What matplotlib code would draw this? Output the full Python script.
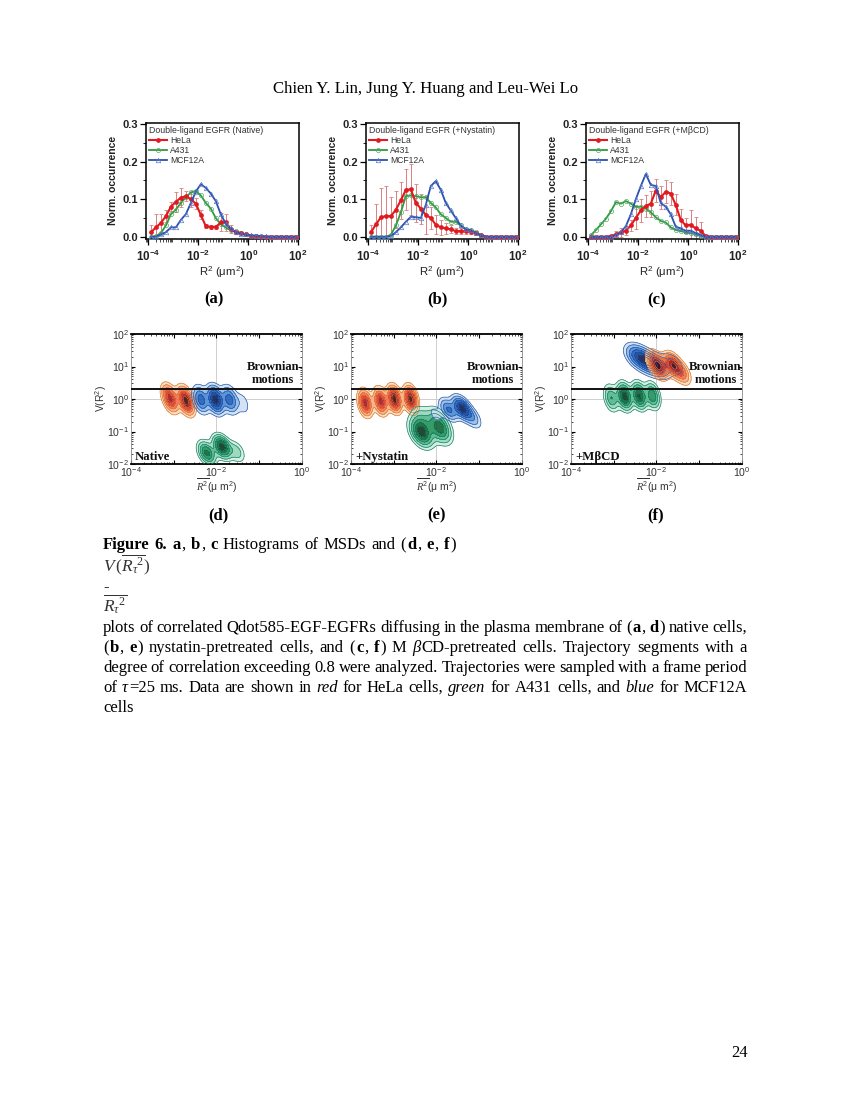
import numpy as np
import matplotlib
matplotlib.use("Agg")
import matplotlib.pyplot as plt
from matplotlib.ticker import LogLocator, NullFormatter, FixedLocator, FixedFormatter

plt.rcParams['font.family'] = ['Liberation Sans', 'DejaVu Sans']
plt.rcParams['mathtext.fontset'] = 'custom'
plt.rcParams['mathtext.rm'] = 'Liberation Sans'
plt.rcParams['mathtext.bf'] = 'Liberation Sans:bold'
plt.rcParams['mathtext.it'] = 'Liberation Serif:italic'
plt.rcParams['mathtext.default'] = 'regular'

W, H = 850, 1100
SERIF = ['Liberation Serif', 'DejaVu Serif']

# ---------- histogram data (log10 of R^2 bin centres) ----------
log_r2 = [-3.9 + 0.2 * i for i in range(30)]
hela_a = [.012,.025,.037,.055,.08,.093,.104,.108,.10,.088,.058,.028,.026,.026,.038,.038,.02,.012,.01,.006,.003,.001,0,0,0,0,0,0,0,0]
a431_a = [0,.002,.01,.03,.06,.072,.09,.105,.118,.122,.11,.09,.075,.05,.033,.025,.017,.014,.01,.006,.003,.002,.001,0,0,0,0,0,0,0]
mcf_a  = [0,0,.006,.012,.025,.025,.045,.06,.09,.12,.14,.13,.115,.095,.06,.035,.022,.012,.008,.006,.004,.003,.002,.001,0,0,0,0,0,0]
err_a  = [.02,.035,.024,.016,.012,.027,.026,.014,.02,.014,.012,.006,.005,.005,.024,.022,.01,.004,.003,.002,0,0,0,0,0,0,0,0,0,0]

hela_b = [.012,.033,.052,.055,.055,.072,.097,.125,.126,.09,.075,.058,.05,.032,.025,.022,.02,.015,.015,.014,.013,.01,.004,0,0,0,0,0,0,0]
a431_b = [0,0,0,0,.005,.03,.065,.108,.11,.108,.105,.105,.09,.078,.06,.05,.04,.04,.03,.02,.018,.012,.005,0,0,0,0,0,0,0]
mcf_b  = [0,0,0,0,.002,.012,.025,.04,.053,.052,.05,.085,.135,.148,.125,.09,.07,.05,.03,.02,.018,.01,.004,0,0,0,0,0,0,0]
err_b  = [.018,.055,.077,.08,.05,.05,.05,.055,.068,.05,.04,.05,.03,.025,.02,.015,.01,.008,.008,.006,.005,.004,.002,0,0,0,0,0,0,0]

hela_c = [0,0,0,0,.002,.006,.012,.016,.03,.05,.07,.082,.088,.123,.105,.12,.115,.085,.045,.03,.032,.022,.016,.002,0,0,0,0,0,0]
a431_c = [.004,.018,.033,.048,.068,.092,.088,.095,.088,.08,.08,.075,.065,.052,.042,.038,.025,.018,.015,.012,.01,.006,.002,0,0,0,0,0,0,0]
mcf_c  = [0,0,0,0,0,.004,.012,.028,.06,.10,.135,.167,.138,.135,.09,.08,.06,.027,.022,.016,.016,.01,.005,0,0,0,0,0,0,0]
err_c  = [0,0,0,0,.002,.008,.012,.012,.015,.03,.03,.03,.035,.03,.03,.03,.03,.028,.03,.02,.04,.03,.022,.002,0,0,0,0,0,0]

legend_titles = ['Double-ligand EGFR (Native)', 'Double-ligand EGFR (+Nystatin)', 'Double-ligand EGFR (+M\u03b2CD)']
cell_names = ['HeLa', 'A431', 'MCF12A']
hela_series = [hela_a, hela_b, hela_c]
a431_series = [a431_a, a431_b, a431_c]
mcf_series = [mcf_a, mcf_b, mcf_c]
err_series = [err_a, err_b, err_c]

# ---------- density peaks: log x, log y, height ----------
red_d = [(-3.08, 0.02, .8), (-2.71, -.05, 1.0)]
blue_d = [(-2.36, -.02, .6), (-2.02, -.02, 1.0), (-1.69, -.02, .6), (-1.38, -.14, .16)]
green_d = [(-2.22, -1.66, .75), (-1.87, -1.47, 1.0), (-1.53, -1.62, .28)]
red_e = [(-3.66, -.12, .8), (-3.30, -.07, .8), (-2.98, 0.0, 1.0), (-2.60, 0.0, .95)]
blue_e = [(-1.71, -.33, .55), (-1.40, -.28, 1.0), (-1.15, -.58, .3), (-2.02, -.48, .14)]
green_e = [(-2.35, -1.03, 1.0), (-1.91, -.94, .7), (-2.32, -.62, .28), (-1.98, -.62, .28)]
blue_f = [(-2.42, 1.30, 1.0), (-2.18, 1.12, .85), (-1.95, 1.0, .55), (-1.62, 1.08, .35)]
red_f = [(-1.95, 1.0, 1.0), (-1.62, 1.05, 1.0), (-1.40, .80, .5), (-2.05, 1.2, .3)]
green_f = [(-3.05, .03, .5), (-2.74, .08, 1.0), (-2.40, .10, .9), (-2.09, .10, .65)]

peak_sets = [(red_d, blue_d, green_d), (red_e, blue_e, green_e), (red_f, blue_f, green_f)]
panel_tags = ['Native', '+Nystatin', '+M\u03b2CD']
density_levels = [.10, .2, .34, .5, .68, .86, 2]

red_fill = ['#fbdcb8', '#f8ab7c', '#f06a42', '#dc2f22', '#a00f20', '#43040c']
blue_fill = ['#cde0f4', '#8cb8e6', '#4585d2', '#1a5ab6', '#0c3a8e', '#051a48']
green_fill = ['#cdeee0', '#90d6b8', '#4cb387', '#1a8e54', '#09602f', '#033018']
red_edge, blue_edge, green_edge = '#dd7a3c', '#2a58a8', '#1f8068'


def px_axes(l, r, t, b):
    return fig.add_axes([l / W, 1 - b / H, (r - l) / W, (b - t) / H])


fig = plt.figure(figsize=(8.5, 11), dpi=100, facecolor='white')

# ---------- panels a-c ----------
hist_boxes = [(145.5, 299), (365.5, 519), (585.5, 739)]
for k, (l, r) in enumerate(hist_boxes):
    ax = px_axes(l, r, 122.5, 239)
    x = 10.0 ** np.array(log_r2)
    hela, a431, mcf, err = hela_series[k], a431_series[k], mcf_series[k], err_series[k]
    ax.errorbar(x, hela, yerr=err, fmt='none', ecolor='#d98080', elinewidth=.7, capsize=1.6, capthick=.6, zorder=2)
    ax.plot(x, a431, color='#2f9a3f', lw=1.3, marker='o', ms=3, mfc='none', mew=.5, mec='#55aa65', label=cell_names[1], zorder=3)
    ax.plot(x, hela, color='#e01a20', lw=1.5, marker='o', ms=3.4, mew=0, label=cell_names[0], zorder=4)
    ax.plot(x, mcf, color='#2a50b0', lw=1.3, marker='^', ms=3.2, mfc='none', mew=.5, mec='#5a78c8', label=cell_names[2], zorder=5)
    ax.set_xscale('log')
    ax.set_xlim(10 ** -4.12, 10 ** 2.04)
    ax.set_ylim(-.006, .304)
    ax.xaxis.set_major_locator(FixedLocator([1e-4, 1e-2, 1, 1e2]))
    ax.xaxis.set_major_formatter(FixedFormatter([r'$\mathbf{10^{-4}}$', r'$\mathbf{10^{-2}}$', r'$\mathbf{10^{0}}$', r'$\mathbf{10^{2}}$']))
    ax.xaxis.set_minor_locator(LogLocator(base=10, subs=np.arange(2, 10), numticks=20))
    ax.xaxis.set_minor_formatter(NullFormatter())
    ax.set_yticks([0, .1, .2, .3])
    ax.set_yticklabels(['0.0', '0.1', '0.2', '0.3'], fontsize=8, fontweight='bold', color='#222222')
    ax.set_yticks([.05, .15, .25], minor=True)
    ax.tick_params(axis='x', which='major', length=4, width=.9, labelsize=8.4, pad=3, labelcolor='#222222')
    ax.tick_params(axis='x', which='minor', length=2, width=.5)
    ax.tick_params(axis='y', which='major', length=4, width=.9, pad=1.5)
    ax.tick_params(axis='y', which='minor', length=2, width=.6)
    for s in ax.spines.values():
        s.set_linewidth(1.1)
    ax.set_ylabel('Norm. occurrence', fontsize=7.5, fontweight='bold', color='#222222', labelpad=3)
    ax.set_xlabel('R$^{2}$ ($\\mu$m$^{2}$)', fontsize=8.2, color='#222222', labelpad=0.5)
    h, lab = ax.get_legend_handles_labels()
    order = [1, 0, 2]
    leg = ax.legend([h[i] for i in order], [lab[i] for i in order], title=legend_titles[k], alignment='left',
                    loc='upper left', frameon=False, fontsize=6.2, title_fontsize=6.3, borderpad=.1,
                    borderaxespad=.3, labelspacing=.12, handlelength=2.1, handletextpad=.35)
    for t in leg.get_texts():
        t.set_color('#333333')
    leg.get_title().set_color('#333333')

# ---------- panels d-f ----------
gx = np.linspace(-4, 0, 320)
gy = np.linspace(-2, 2, 320)
GX, GY = np.meshgrid(gx, gy)


def density(peaks, sx, sy, rho):
    z = np.zeros_like(GX)
    for cx, cy, a in peaks:
        u, v = (GX - cx) / sx, (GY - cy) / sy
        z = z + a * np.exp(-(u * u - 2 * rho * u * v + v * v) / (2 * (1 - rho * rho)))
    return z / z.max()


map_boxes = [(130.7, 302), (350.7, 522), (570.7, 742)]
for k, (l, r) in enumerate(map_boxes):
    ax = px_axes(l, r, 334, 464)
    X, Y = 10.0 ** GX, 10.0 ** GY
    red, blue, green = peak_sets[k]
    if k == 2:
        layers = [(blue, blue_fill, blue_edge, .18, .23, -.45), (red, red_fill, red_edge, .125, .22, -.45), (green, green_fill, green_edge, .105, .24, -.3)]
    elif k == 1:
        layers = [(red, red_fill, red_edge, .1, .24, -.3), (green, green_fill, green_edge, .16, .26, -.4), (blue, blue_fill, blue_edge, .13, .21, -.5)]
    else:
        layers = [(red, red_fill, red_edge, .115, .25, -.45), (blue, blue_fill, blue_edge, .115, .25, -.35), (green, green_fill, green_edge, .125, .21, -.4)]
    for peaks, fill, edge, sx, sy, rho in layers:
        z = density(peaks, sx, sy, rho)
        ax.contourf(X, Y, z, levels=density_levels, colors=fill, alpha=.88, zorder=2)
        ax.contour(X, Y, z, levels=density_levels[:-1], colors=edge, linewidths=.5, zorder=3)
    ax.set_xscale('log')
    ax.set_yscale('log')
    ax.set_xlim(1e-4, 1)
    ax.set_ylim(1e-2, 1e2)
    ax.axvline(1e-2, color='#c8c8c8', lw=.6, zorder=1)
    ax.axhline(1, color='#c8c8c8', lw=.6, zorder=1)
    ax.axhline(2.02, color='#111111', lw=1.4, zorder=6)
    ax.xaxis.set_major_locator(FixedLocator([1e-4, 1e-3, 1e-2, 1e-1, 1]))
    ax.xaxis.set_major_formatter(FixedFormatter(['$10^{-4}$', '', '$10^{-2}$', '', '$10^{0}$']))
    ax.xaxis.set_minor_locator(LogLocator(base=10, subs=np.arange(2, 10), numticks=20))
    ax.xaxis.set_minor_formatter(NullFormatter())
    ax.yaxis.set_major_locator(FixedLocator([1e-2, 1e-1, 1, 10, 100]))
    ax.yaxis.set_major_formatter(FixedFormatter(['$10^{-2}$', '$10^{-1}$', '$10^{0}$', '$10^{1}$', '$10^{2}$']))
    ax.yaxis.set_minor_locator(LogLocator(base=10, subs=np.arange(2, 10), numticks=20))
    ax.yaxis.set_minor_formatter(NullFormatter())
    ax.tick_params(axis='both', which='major', direction='in', top=True, right=True, length=3, width=.8,
                   labelsize=7.6, labelcolor='#333333', pad=1)
    ax.tick_params(axis='both', which='minor', direction='in', top=True, right=True, length=1.6, width=.5)
    for name in ('top', 'bottom'):
        ax.spines[name].set_linewidth(1.3)
    for name in ('left', 'right'):
        ax.spines[name].set_linewidth(.6)
        ax.spines[name].set_color('#888888')
    ax.set_xlabel(r'$\overline{\mathit{R}^{2}}$($\mu$ m$^{2}$)', fontsize=7.4, color='#333333', labelpad=-2)
    ax.set_ylabel('V(R$^{2}$)', fontsize=7.4, color='#333333', labelpad=-1)
    ax.text(.83 if k != 2 else .845, .696, 'Brownian\nmotions', transform=ax.transAxes, ha='center', va='center',
            family=SERIF, fontweight='bold', fontsize=9, linespacing=1.15, color='#111111', zorder=7)
    ax.text(.025, .054, panel_tags[k], transform=ax.transAxes, ha='left', va='center', family=SERIF,
            fontweight='bold', fontsize=9.2, color='#111111', zorder=7)


# ---------- page text ----------
def ptext(x, y, s, **kw):
    kw.setdefault('family', SERIF)
    kw.setdefault('fontsize', 12)
    kw.setdefault('color', 'black')
    return fig.text(x / W, 1 - y / H, s, va='baseline', **kw)


ptext(273, 93, 'Chien Y. Lin, Jung Y. Huang and Leu-Wei Lo', fontsize=12.1)
ptext(731, 1057, '24')
for lab, x, y in [('(a)', 214, 303), ('(b)', 437, 303), ('(c)', 657, 304), ('(d)', 218, 519), ('(e)', 436, 519), ('(f)', 656, 519)]:
    ptext(x, y, lab, ha='center', fontweight='bold', fontsize=12)

B = dict(fontweight='bold')
I = dict(style='italic')
N = {}
caption = [
    (549, False, [[('Figure', B)], [('6.', B)], [('a', B), (',', N)], [('b', B), (',', N)], [('c', B)], [('Histograms', N)], [('of', N)], [('MSDs', N)], [('and', N)], [('(', N), ('d', B), (',', N)], [('e', B), (',', N)], [('f', B), (')', N)]]),
    (632, True, [[('plots', N)], [('of', N)], [('correlated', N)], [('Qdot585-EGF-EGFRs', N)], [('diffusing', N)], [('in', N)], [('the', N)], [('plasma', N)], [('membrane', N)], [('of', N)], [('(', N), ('a', B), (',', N)], [('d', B), (')', N)], [('native', N)], [('cells,', N)]]),
    (652, True, [[('(', N), ('b', B), (',', N)], [('e', B), (')', N)], [('nystatin-pretreated', N)], [('cells,', N)], [('and', N)], [('(', N), ('c', B), (',', N)], [('f', B), (')', N)], [('M', N)], [('\u03b2', I), ('CD-pretreated', N)], [('cells.', N)], [('Trajectory', N)], [('segments', N)], [('with', N)], [('a', N)]]),
    (672, True, [[('degree', N)], [('of', N)], [('correlation', N)], [('exceeding', N)], [('0.8', N)], [('were', N)], [('analyzed.', N)], [('Trajectories', N)], [('were', N)], [('sampled', N)], [('with', N)], [('a', N)], [('frame', N)], [('period', N)]]),
    (692, True, [[('of', N)], [('\u03c4', I), ('=25', N)], [('ms.', N)], [('Data', N)], [('are', N)], [('shown', N)], [('in', N)], [('red', I)], [('for', N)], [('HeLa', N)], [('cells,', N)], [('green', I)], [('for', N)], [('A431', N)], [('cells,', N)], [('and', N)], [('blue', I)], [('for', N)], [('MCF12A', N)]]),
    (712, False, [[('cells', N)]]),
]
renderer = fig.canvas.get_renderer()


def run_width(s, st):
    t = ptext(0, 0, s, **st)
    w = t.get_window_extent(renderer).width
    t.remove()
    return w


LEFT, RIGHT, SPACE = 103, 748, 4.2
for y, justify, words in caption:
    widths = [sum(run_width(s, st) + .9 for s, st in w) for w in words]
    gap = (RIGHT - LEFT - sum(widths)) / max(len(words) - 1, 1) if justify else SPACE
    x = LEFT
    for word, wd in zip(words, widths):
        cx = x
        for s, st in word:
            ptext(cx, y, s, **st)
            cx += run_width(s, st) + .9
        x += wd + gap

ptext(103, 571, r'$\mathit{V}\,(\overline{\mathit{R}_{\mathit{\tau}}{}^{2}})$', fontsize=12.5, color='#333333')
ptext(103, 591, '-', fontsize=12)
ptext(103, 612, r'$\overline{\mathit{R}_{\mathit{\tau}}{}^{2}}$', fontsize=12.5, color='#333333')

fig.savefig('out.png', dpi=100, facecolor='white')
